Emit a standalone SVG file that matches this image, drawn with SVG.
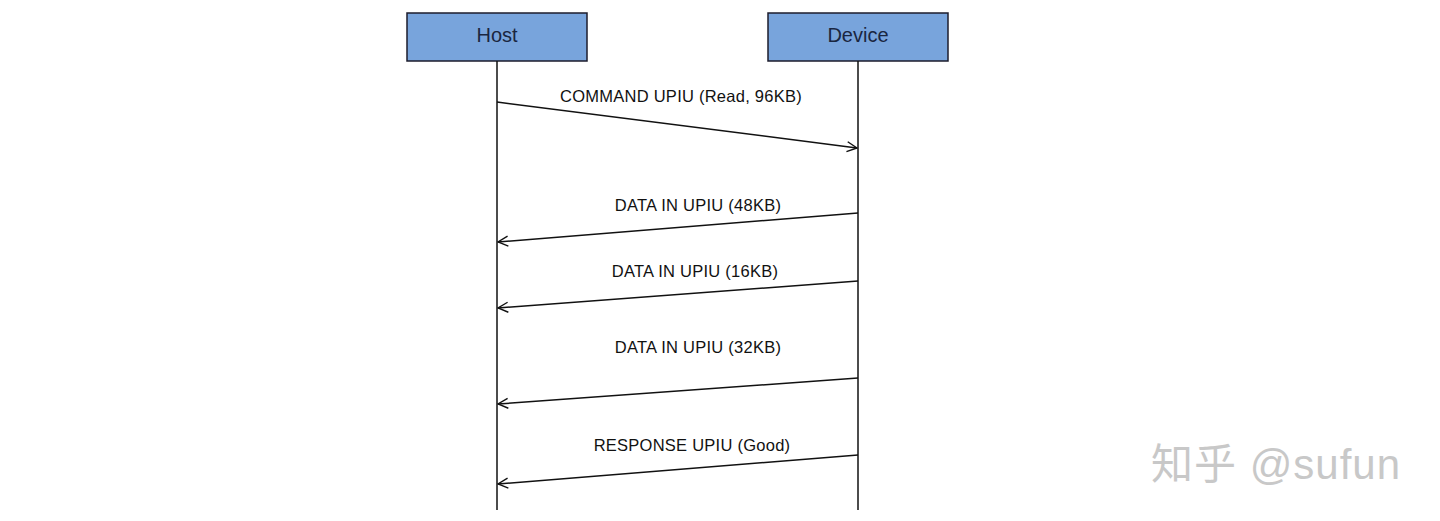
<svg xmlns="http://www.w3.org/2000/svg" width="1440" height="521" viewBox="0 0 1440 521">
<defs>
<style>
.box{fill:#78a4dc;stroke:#1c1c2c;stroke-width:1.5}
.title{font-family:"Liberation Sans",Arial,sans-serif;font-size:20px;fill:#1a2640;text-anchor:middle}
.life{stroke:#111;stroke-width:1.5;fill:none}
.msg{stroke:#111;stroke-width:1.5;fill:none}
.lbl{font-family:"Liberation Sans",Arial,sans-serif;font-size:16.5px;letter-spacing:0.25px;fill:#111;text-anchor:middle}
.wm{font-family:"Liberation Sans","Noto Sans CJK SC",sans-serif;font-size:42px;letter-spacing:1px;fill:#c8c8c8}
</style>
<marker id="open" viewBox="0 0 12 12" refX="11" refY="6" markerWidth="12" markerHeight="12" markerUnits="userSpaceOnUse" orient="auto">
<path d="M1,1 L11,6 L1,11" fill="none" stroke="#111" stroke-width="1.4"/>
</marker>
</defs>
<rect width="1440" height="521" fill="#fff"/>
<g id="host">
<rect class="box" x="407" y="13" width="180" height="48"/>
<text class="title" x="497" y="42">Host</text>
<line class="life" x1="497" y1="61" x2="497" y2="510"/>
</g>
<g id="device">
<rect class="box" x="768" y="13" width="180" height="48"/>
<text class="title" x="858" y="42">Device</text>
<line class="life" x1="858" y1="61" x2="858" y2="510"/>
</g>
<g id="connectors">
<line class="msg" x1="497" y1="102" x2="857" y2="148" marker-end="url(#open)"/>
<text class="lbl" x="681" y="102">COMMAND UPIU (Read, 96KB)</text>
<line class="msg" x1="858" y1="213" x2="498" y2="242" marker-end="url(#open)"/>
<text class="lbl" x="698" y="211">DATA IN UPIU (48KB)</text>
<line class="msg" x1="858" y1="281" x2="498" y2="308" marker-end="url(#open)"/>
<text class="lbl" x="695" y="277">DATA IN UPIU (16KB)</text>
<line class="msg" x1="858" y1="378" x2="498" y2="404" marker-end="url(#open)"/>
<text class="lbl" x="698" y="353">DATA IN UPIU (32KB)</text>
<line class="msg" x1="858" y1="455" x2="498" y2="484" marker-end="url(#open)"/>
<text class="lbl" x="692" y="451">RESPONSE UPIU (Good)</text>
</g>
<text class="wm" x="1151" y="479">知乎 @sufun</text>
</svg>
